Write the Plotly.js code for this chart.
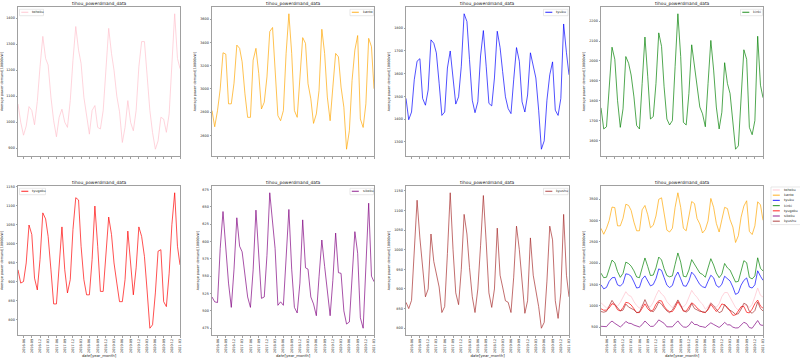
<!DOCTYPE html>
<html><head><meta charset="utf-8">
<script src="https://cdn.plot.ly/plotly-3.0.1.min.js"></script>
<style>html,body{margin:0;padding:0;background:#fff;}#chart{width:800px;height:358px;}</style>
</head><body><div id="chart"></div>
<script>
const months = ['2016-04','2016-05','2016-06','2016-07','2016-08','2016-09','2016-10','2016-11','2016-12',
'2017-01','2017-02','2017-03','2017-04','2017-05','2017-06','2017-07','2017-08','2017-09','2017-10','2017-11','2017-12',
'2018-01','2018-02','2018-03','2018-04','2018-05','2018-06','2018-07','2018-08','2018-09','2018-10','2018-11','2018-12',
'2019-01','2019-02','2019-03','2019-04','2019-05','2019-06','2019-07','2019-08','2019-09','2019-10','2019-11','2019-12',
'2020-01','2020-02','2020-03','2020-04','2020-05','2020-06','2020-07','2020-08','2020-09','2020-10','2020-11','2020-12',
'2021-01','2021-02','2021-03'];

const tickLabels = ['2016-06','2016-09','2016-12','2017-03','2017-06','2017-09','2017-12','2018-03','2018-06','2018-09',
'2018-12','2019-03','2019-06','2019-09','2019-12','2020-03','2020-06','2020-09','2020-12','2021-03'];

const tohoku = [1070,1000,950,985,1060,1045,990,1080,1213,1330,1245,1220,1096,1006,944,1019,1050,1000,980,1083,1238,
1368,1277,1226,1096,1019,954,1045,1064,980,974,1045,1213,1361,1264,1200,1100,1040,922,980,1083,999,967,1045,1213,
1310,1310,1193,1045,960,896,928,1019,1012,961,1032,1213,1417,1245,1206];

const kanto = [2814,2675,2814,3000,3311,3299,2872,2872,3050,3377,3349,3233,2958,2756,2756,3247,3349,3132,2828,2886,3103,
3493,3528,3190,2771,2727,2814,3305,3646,3305,2814,2756,3074,3441,3392,3045,2915,2704,2785,2987,3513,3305,2930,2727,3016,
3305,3276,3016,2843,2482,2641,3074,3334,3459,2742,2669,2872,3435,3363,3002];

const tyubu = [1491,1397,1431,1573,1655,1666,1491,1461,1528,1749,1734,1692,1558,1416,1431,1625,1700,1595,1466,1498,1633,
1864,1830,1663,1483,1428,1476,1678,1790,1633,1469,1458,1581,1787,1715,1610,1498,1446,1424,1573,1715,1655,1476,1431,1506,
1692,1640,1581,1439,1267,1304,1483,1595,1652,1439,1416,1491,1819,1692,1595];

const kinki = [1764,1658,1669,1870,2069,2008,1802,1666,1759,2022,1988,1929,1819,1675,1658,1886,2120,1920,1708,1720,1886,
2141,2073,1870,1708,1678,1700,1971,2237,2022,1691,1678,1836,2081,1971,1895,1768,1734,1669,1886,2103,1954,1768,1658,1742,
1991,1886,1836,1700,1556,1573,1802,2056,2008,1666,1629,1700,2124,1878,1815];

const tyugoku = [931,896,900,949,1049,1024,909,878,958,1081,1065,1019,931,841,841,931,1044,931,870,905,1037,
1121,1115,993,905,865,865,958,1099,993,874,874,984,1070,1024,949,896,847,847,905,1033,958,865,936,1044,
1019,966,878,777,786,870,980,984,847,834,922,1050,1134,993,944];

const sikoku = [520,513,512,590,643,590,540,505,560,634,593,585,549,520,505,559,645,578,518,520,580,
670,625,590,508,513,508,580,646,560,505,497,540,631,562,560,520,510,493,549,602,564,525,493,544,
612,555,554,500,481,484,544,614,583,490,475,560,655,550,542];

const kyushu = [866,850,871,984,1126,1030,960,880,900,1040,970,940,905,840,855,990,1145,1000,890,860,950,
1090,1040,955,880,840,900,1010,1138,1020,890,853,900,1055,935,905,870,866,840,930,1060,1000,910,838,870,
1030,935,900,855,800,815,920,1060,1025,870,825,890,1090,935,880];

const seriesNames = ['tohoku','kanto','tyubu','kinki','tyugoku','sikoku','kyushu'];
const seriesData = [tohoku,kanto,tyubu,kinki,tyugoku,sikoku,kyushu];
const seriesColors = ['#ffc0cb','#ffa500','#0000ff','#008000','#ff0000','#800080','#a52a2a'];
const yTickStep = [100,200,100,100,50,25,50,500];
const panelTitle = 'tihou_powerdmand_data';
const yTitle = 'Average power demand[10000kW]';
const xTitle = 'date[year_month]';

const W = 800, H = 358;
const colPx = [[18,180],[212,374],[406,569],[601,763]];
const rowPx = [[7,156],[186,335]];
const titlePx = [4.2, 183];
const xDates = months.map(m => m + '-01');
const tickVals = tickLabels.map(m => m + '-01');

function padRange(arrs){
  let mn = Infinity, mx = -Infinity;
  arrs.forEach(a => a.forEach(v => {mn = Math.min(mn,v); mx = Math.max(mx,v);}));
  const d = mx - mn;
  return [mn - 0.05*d, mx + 0.05*d];
}

const traces = [];
const layout = {
  width: W, height: H,
  margin: {l:0,r:0,t:0,b:0},
  paper_bgcolor: '#fff', plot_bgcolor: '#fff',
  showlegend: false,
  font: {family: 'DejaVu Sans', color: '#222'},
  annotations: [], shapes: []
};

for (let p = 0; p < 8; p++) {
  const row = p < 4 ? 0 : 1, col = p % 4;
  const sfx = p === 0 ? '' : String(p+1);
  const xd = [colPx[col][0]/W, colPx[col][1]/W];
  const yd = [1 - rowPx[row][1]/H, 1 - rowPx[row][0]/H];
  const idx = p < 7 ? [p] : [0,1,2,3,4,5,6];
  idx.forEach(k => {
    traces.push({
      x: xDates, y: seriesData[k], type: 'scatter', mode: 'lines', name: seriesNames[k],
      xaxis: 'x' + sfx, yaxis: 'y' + sfx,
      line: {color: seriesColors[k], width: 0.95}, opacity: 0.72, hoverinfo: 'x+y+name'
    });
  });
  layout['xaxis' + sfx] = {
    domain: xd, anchor: 'y' + sfx, type: 'date',
    range: [xDates[0], xDates[xDates.length-1]],
    tickmode: 'array', tickvals: tickVals, ticktext: tickLabels,
    showticklabels: row === 1, tickangle: -90,
    tickfont: {size: 3.4, color: '#222'},
    ticks: 'outside', ticklen: 1.5, tickwidth: 0.5, tickcolor: '#444',
    showline: true, linecolor: '#a0a0a0', linewidth: 1, mirror: true,
    showgrid: false, zeroline: false,
    title: row === 1 ? {text: xTitle, font: {size: 3.8, color: '#222'}, standoff: 2} : {text: ''}
  };
  layout['yaxis' + sfx] = {
    domain: yd, anchor: 'x' + sfx,
    range: padRange(idx.map(k => seriesData[k])),
    dtick: yTickStep[p], tickmode: 'linear', tick0: 0,
    tickfont: {size: 3.4, color: '#222'},
    ticks: 'outside', ticklen: 1.5, tickwidth: 0.5, tickcolor: '#444',
    showline: true, linecolor: '#a0a0a0', linewidth: 1, mirror: true,
    showgrid: false, zeroline: false,
    title: {text: yTitle, font: {size: 3.4, color: '#222'}, standoff: 3}
  };
  layout.annotations.push({
    text: panelTitle, xref: 'paper', yref: 'paper',
    x: (xd[0]+xd[1])/2, y: 1 - titlePx[row]/H, xanchor: 'center', yanchor: 'middle',
    showarrow: false, font: {size: 4.4, color: '#222'}, borderpad: 0
  });
}

// legends (drawn as small boxes, matplotlib style)
function legendBox(x0px, y0px, names, colors, boxW) {
  const rowH = 5.2;
  const h = names.length * rowH + 1.2;
  layout.shapes.push({type:'rect', xref:'paper', yref:'paper',
    x0: x0px/W, x1: (x0px+boxW)/W, y0: 1-(y0px+h)/H, y1: 1-y0px/H,
    line:{color:'#d8d8d8', width:0.6}, fillcolor:'rgba(255,255,255,0.8)'});
  names.forEach((n, i) => {
    const cy = y0px + 3 + i*rowH;
    layout.shapes.push({type:'line', xref:'paper', yref:'paper',
      x0: (x0px+1.8)/W, x1: (x0px+8.8)/W, y0: 1-cy/H, y1: 1-cy/H,
      line:{color: colors[i], width: 1.2}, opacity: 0.72});
    layout.annotations.push({text: n, xref:'paper', yref:'paper',
      x: (x0px+11.5)/W, y: 1-cy/H, xanchor:'left', yanchor:'middle',
      showarrow:false, font:{size:3.4, color:'#222'}, borderpad: 0});
  });
}
const legendPos = [[19.5,9.3,24],[350,9.3,23.5],[543.5,9.3,24.5],[740.5,9.3,22],
                   [19.5,188.3,26],[350,188.3,23.5],[543.5,188.3,24.5]];
for (let k = 0; k < 7; k++) {
  legendBox(legendPos[k][0], legendPos[k][1], [seriesNames[k]], [seriesColors[k]], legendPos[k][2]);
}
legendBox(771, 187, seriesNames, seriesColors, 32);

Plotly.newPlot('chart', traces, layout, {staticPlot: true, displayModeBar: false});
</script></body></html>
